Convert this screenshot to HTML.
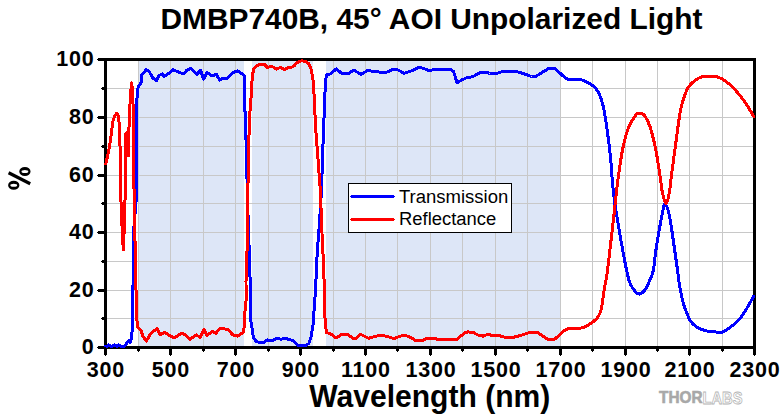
<!DOCTYPE html>
<html><head><meta charset="utf-8"><style>
html,body{margin:0;padding:0;background:#fff;width:780px;height:415px;overflow:hidden}
svg{display:block;font-family:"Liberation Sans",sans-serif}
</style></head><body>
<svg width="780" height="415" viewBox="0 0 780 415">
<rect x="0" y="0" width="780" height="415" fill="#fff"/>
<g fill="#dde6f7" shape-rendering="crispEdges">
<rect x="138" y="61" width="106" height="285"/>
<rect x="252" y="61" width="61" height="285"/>
<rect x="326" y="61" width="234" height="285"/>
</g>
<g fill="#c8c8c8" shape-rendering="crispEdges">
<rect x="138" y="61" width="1" height="285"/>
<rect x="170" y="61" width="1" height="285"/>
<rect x="203" y="61" width="1" height="285"/>
<rect x="235" y="61" width="1" height="285"/>
<rect x="268" y="61" width="1" height="285"/>
<rect x="300" y="61" width="1" height="285"/>
<rect x="333" y="61" width="1" height="285"/>
<rect x="365" y="61" width="1" height="285"/>
<rect x="397" y="61" width="1" height="285"/>
<rect x="430" y="61" width="1" height="285"/>
<rect x="462" y="61" width="1" height="285"/>
<rect x="495" y="61" width="1" height="285"/>
<rect x="527" y="61" width="1" height="285"/>
<rect x="560" y="61" width="1" height="285"/>
<rect x="592" y="61" width="1" height="285"/>
<rect x="625" y="61" width="1" height="285"/>
<rect x="657" y="61" width="1" height="285"/>
<rect x="689" y="61" width="1" height="285"/>
<rect x="722" y="61" width="1" height="285"/>
<rect x="107" y="88" width="646" height="1"/>
<rect x="107" y="117" width="646" height="1"/>
<rect x="107" y="146" width="646" height="1"/>
<rect x="107" y="175" width="646" height="1"/>
<rect x="107" y="203" width="646" height="1"/>
<rect x="107" y="232" width="646" height="1"/>
<rect x="107" y="261" width="646" height="1"/>
<rect x="107" y="290" width="646" height="1"/>
<rect x="107" y="318" width="646" height="1"/>
</g>
<g fill="#000" shape-rendering="crispEdges">
<rect x="98" y="58" width="657" height="3"/><rect x="97" y="59" width="1" height="1"/>
<rect x="104" y="58" width="3" height="297"/><rect x="105" y="355" width="1" height="1"/>
<rect x="98" y="346" width="657" height="3"/><rect x="97" y="347" width="1" height="1"/>
<rect x="753" y="58" width="3" height="297"/><rect x="754" y="355" width="1" height="1"/>
<rect x="102" y="87" width="2" height="3"/><rect x="101" y="88" width="1" height="1"/>
<rect x="98" y="116" width="6" height="3"/><rect x="97" y="117" width="1" height="1"/>
<rect x="102" y="145" width="2" height="3"/><rect x="101" y="146" width="1" height="1"/>
<rect x="98" y="174" width="6" height="3"/><rect x="97" y="175" width="1" height="1"/>
<rect x="102" y="202" width="2" height="3"/><rect x="101" y="203" width="1" height="1"/>
<rect x="98" y="231" width="6" height="3"/><rect x="97" y="232" width="1" height="1"/>
<rect x="102" y="260" width="2" height="3"/><rect x="101" y="261" width="1" height="1"/>
<rect x="98" y="289" width="6" height="3"/><rect x="97" y="290" width="1" height="1"/>
<rect x="102" y="317" width="2" height="3"/><rect x="101" y="318" width="1" height="1"/>
<rect x="137" y="349" width="3" height="2"/><rect x="138" y="351" width="1" height="1"/>
<rect x="169" y="349" width="3" height="6"/><rect x="170" y="355" width="1" height="1"/>
<rect x="202" y="349" width="3" height="2"/><rect x="203" y="351" width="1" height="1"/>
<rect x="234" y="349" width="3" height="6"/><rect x="235" y="355" width="1" height="1"/>
<rect x="267" y="349" width="3" height="2"/><rect x="268" y="351" width="1" height="1"/>
<rect x="299" y="349" width="3" height="6"/><rect x="300" y="355" width="1" height="1"/>
<rect x="332" y="349" width="3" height="2"/><rect x="333" y="351" width="1" height="1"/>
<rect x="364" y="349" width="3" height="6"/><rect x="365" y="355" width="1" height="1"/>
<rect x="396" y="349" width="3" height="2"/><rect x="397" y="351" width="1" height="1"/>
<rect x="429" y="349" width="3" height="6"/><rect x="430" y="355" width="1" height="1"/>
<rect x="461" y="349" width="3" height="2"/><rect x="462" y="351" width="1" height="1"/>
<rect x="494" y="349" width="3" height="6"/><rect x="495" y="355" width="1" height="1"/>
<rect x="526" y="349" width="3" height="2"/><rect x="527" y="351" width="1" height="1"/>
<rect x="559" y="349" width="3" height="6"/><rect x="560" y="355" width="1" height="1"/>
<rect x="591" y="349" width="3" height="2"/><rect x="592" y="351" width="1" height="1"/>
<rect x="624" y="349" width="3" height="6"/><rect x="625" y="355" width="1" height="1"/>
<rect x="656" y="349" width="3" height="2"/><rect x="657" y="351" width="1" height="1"/>
<rect x="688" y="349" width="3" height="6"/><rect x="689" y="355" width="1" height="1"/>
<rect x="721" y="349" width="3" height="2"/><rect x="722" y="351" width="1" height="1"/>
</g>
<g fill="none" stroke-width="3" stroke-linejoin="round" stroke-linecap="round" shape-rendering="crispEdges">
<path stroke="#0000ff" d="M105.5 346.0 L107.5 346.0 L108.5 344.8 L110.0 346.0 L113.0 346.0 L114.5 344.8 L116.0 346.0 L117.5 346.0 L118.5 344.8 L120.0 346.0 L125.0 346.0 L126.8 343.0 L128.5 341.0 L130.2 342.5 L131.6 337.3 L132.2 330.0 L132.6 307.0 L133.1 280.0 L133.3 234.0 L136.3 199.0 L136.5 140.0 L136.6 107.0 L137.4 90.0 L138.7 86.0 L141.2 82.6 L142.0 74.5 L146.4 69.6 L149.3 71.6 L152.7 77.8 L156.5 80.7 L158.9 75.4 L162.3 74.0 L164.2 76.4 L168.6 73.5 L172.9 69.6 L178.2 72.0 L183.6 73.9 L186.7 70.3 L190.8 68.3 L196.9 74.4 L200.5 70.3 L203.6 79.0 L207.2 72.4 L211.8 76.0 L216.4 74.4 L219.5 80.0 L223.0 78.0 L227.7 78.0 L232.3 72.9 L237.4 70.8 L241.5 73.4 L244.1 75.4 L244.6 80.6 L244.3 90.0 L245.5 126.0 L246.7 160.0 L247.2 190.0 L249.1 247.8 L250.3 286.4 L251.0 321.7 L253.4 337.3 L255.8 341.0 L259.5 342.8 L263.7 342.8 L267.3 339.8 L272.1 341.0 L276.9 338.3 L280.5 339.2 L286.0 338.3 L289.6 339.8 L293.2 340.4 L298.6 345.8 L305.2 345.8 L308.9 343.4 L311.3 336.1 L313.1 324.1 L314.3 307.2 L315.5 290.0 L317.2 252.7 L319.1 228.6 L321.5 190.0 L322.7 152.7 L323.9 121.3 L325.1 90.0 L325.6 80.6 L326.7 74.5 L330.3 74.0 L336.4 68.8 L341.5 73.3 L348.7 73.3 L353.8 70.2 L361.0 74.3 L368.2 70.2 L374.4 71.9 L386.7 72.2 L392.8 69.4 L396.9 69.4 L404.2 73.3 L411.4 70.9 L419.6 67.1 L428.8 70.4 L436.0 69.4 L450.4 69.4 L453.5 71.4 L457.1 82.7 L460.6 80.6 L465.8 78.1 L470.9 77.0 L474.1 76.0 L480.3 72.4 L486.4 72.2 L489.5 73.5 L496.7 73.5 L502.8 71.4 L516.2 71.4 L523.3 73.5 L531.5 76.5 L535.6 76.5 L543.8 71.4 L549.1 68.3 L554.2 68.3 C556.1 69.2 558.2 71.7 560.4 73.5 C562.6 75.3 564.4 78.1 567.6 79.1 C570.9 80.1 576.5 78.8 579.9 79.4 C583.3 80.0 585.5 81.3 588.1 82.7 C590.7 84.1 593.4 85.8 595.3 87.8 C597.2 89.8 598.3 91.4 599.6 94.6 C600.9 97.8 602.1 101.1 603.3 106.7 C604.5 112.3 605.7 120.0 606.9 128.4 C608.1 136.8 609.6 148.2 610.5 157.3 C611.4 166.4 611.7 174.8 612.5 183.0 C613.3 191.2 614.0 197.8 615.3 206.5 C616.6 215.2 618.5 226.2 620.1 235.4 C621.7 244.6 623.4 254.2 624.9 261.9 C626.4 269.6 627.8 276.9 629.4 281.6 C631.0 286.3 632.6 288.1 634.2 290.2 C635.8 292.3 637.2 294.1 639.0 294.1 C640.8 294.1 643.0 292.4 644.8 290.2 C646.6 287.9 648.2 284.0 649.6 280.6 C651.0 277.2 652.3 275.5 653.4 270.0 C654.5 264.5 654.8 256.9 656.3 247.5 C657.8 238.1 660.8 220.9 662.3 213.7 C663.8 206.5 664.0 203.7 665.2 204.1 C666.4 204.5 668.0 208.9 669.5 216.1 C671.0 223.3 673.0 238.5 674.3 247.5 C675.6 256.5 676.6 263.4 677.5 270.0 C678.4 276.6 678.8 281.3 679.8 286.9 C680.8 292.5 681.8 298.1 683.5 303.7 C685.2 309.3 688.0 316.7 690.2 320.6 C692.5 324.5 694.5 325.6 697.0 327.3 C699.5 329.0 702.6 329.9 705.4 330.7 C708.2 331.4 711.2 331.6 714.0 331.8 C716.8 332.0 719.8 332.7 722.3 332.1 C724.8 331.5 726.2 330.3 729.0 328.2 C731.8 326.1 736.0 323.2 739.1 319.7 C742.2 316.2 745.2 311.0 747.6 307.1 L753.8 296.1"/>
<path stroke="#ff0000" d="M105.8 164.0 L108.0 154.0 L109.8 145.0 L111.5 132.0 L112.7 122.0 L114.6 116.0 L117.0 113.0 L118.5 116.0 L119.5 127.0 L120.4 160.0 L120.6 189.0 L121.5 217.0 L123.3 250.0 L124.8 217.0 L125.2 185.0 L125.3 150.0 L125.8 134.0 L126.8 132.5 L127.6 145.0 L128.3 156.0 L128.8 140.0 L129.1 121.0 L130.2 100.0 L131.5 83.0 L132.8 92.0 L133.3 120.0 L133.4 171.0 L134.4 200.0 L135.3 260.0 L136.0 290.0 L136.7 314.0 L137.3 327.0 L141.0 330.1 L142.8 336.1 L146.4 341.0 L150.6 333.7 L153.6 331.3 L157.2 328.3 L160.2 334.9 L164.5 332.5 L168.7 334.9 L174.1 338.0 L181.6 333.1 L185.2 334.9 L190.1 339.2 L196.1 334.9 L200.3 337.3 L203.9 329.5 L206.9 335.5 L212.3 331.6 L216.0 333.1 L220.2 328.3 L228.0 329.5 L232.8 334.9 L237.7 336.1 L243.1 332.5 L244.3 326.5 L244.9 312.0 L246.1 300.0 L246.0 281.6 L247.2 245.4 L247.9 190.0 L248.4 162.3 L249.1 131.0 L250.3 104.5 L251.0 98.0 L251.8 83.6 L252.8 73.4 L254.1 68.3 L257.2 65.3 L262.3 64.0 L264.9 64.7 L267.4 67.5 L271.5 66.1 L276.7 69.2 L280.3 67.3 L284.9 69.6 L289.0 67.1 L291.0 67.5 L294.0 66.0 L297.0 62.5 L302.0 60.7 L305.5 61.5 L308.5 63.5 L310.5 67.0 L311.8 72.4 L313.1 80.6 L314.1 95.0 L315.5 126.1 L317.9 157.5 L320.3 190.0 L322.0 233.4 L323.4 262.3 L324.4 290.0 L324.5 312.0 L326.3 332.5 L330.5 333.7 L336.0 338.0 L342.0 334.3 L347.5 334.3 L352.9 338.3 L355.9 338.3 L360.7 334.3 L368.6 338.3 L375.8 336.1 L383.0 335.5 L387.8 336.7 L393.9 338.6 L402.3 335.5 L408.3 336.1 L415.5 340.4 L422.8 340.4 L427.0 338.3 L435.5 338.6 L437.9 339.5 L457.2 339.2 L464.4 333.1 L468.0 331.9 L472.8 332.3 L477.7 334.9 L483.1 336.1 L486.1 334.9 L498.1 335.2 L504.8 337.3 L513.3 337.3 L521.7 335.2 L529.5 332.5 L537.3 332.5 L547.6 339.2 L554.8 339.2 L561.4 333.1 C563.5 331.4 564.1 329.8 567.5 328.9 C570.9 328.0 577.3 329.1 581.5 328.0 C585.7 326.9 590.0 324.0 592.8 322.0 C595.6 320.0 597.1 318.4 598.5 316.2 C599.9 313.9 600.4 313.0 601.4 308.5 C602.4 304.0 603.4 295.1 604.3 289.3 C605.2 283.6 606.0 281.4 607.0 274.0 C608.0 266.6 609.3 255.1 610.5 245.0 C611.7 234.9 612.9 224.0 614.1 213.7 C615.3 203.4 616.1 193.6 617.5 183.0 C618.9 172.4 620.6 159.3 622.5 150.0 C624.4 140.7 626.4 133.0 628.6 127.2 C630.8 121.4 634.0 117.4 635.8 115.1 C637.6 112.8 638.0 113.4 639.4 113.4 C640.8 113.4 642.4 112.8 644.2 115.1 C646.0 117.4 648.2 121.0 650.2 127.2 C652.2 133.4 654.5 143.1 656.3 152.5 C658.1 161.9 660.1 177.2 661.1 183.8 C662.1 190.4 661.5 188.6 662.3 192.0 C663.1 195.4 664.7 204.1 665.9 204.1 C667.1 204.1 668.7 195.8 669.5 192.0 C670.3 188.2 669.7 189.2 670.7 181.4 C671.7 173.6 673.9 156.7 675.5 145.2 C677.1 133.7 678.8 120.0 680.1 112.3 C681.4 104.6 682.1 103.0 683.5 98.8 C684.9 94.6 686.5 90.1 688.5 87.0 C690.5 83.9 693.0 81.9 695.3 80.2 C697.5 78.5 699.6 77.6 702.0 76.9 C704.4 76.2 707.1 76.0 709.6 76.0 C712.1 76.0 714.5 76.1 717.2 76.9 C719.9 77.8 722.8 79.1 725.6 81.1 C728.4 83.1 731.3 85.8 734.1 88.7 C736.9 91.7 740.0 95.4 742.5 98.8 C745.0 102.2 747.4 106.0 749.3 108.9 L753.8 116.5"/>
</g>
<rect x="348.5" y="183.5" width="163" height="49" fill="#fff" stroke="#000" stroke-width="1"/>
<g shape-rendering="crispEdges"><rect x="351" y="195" width="43" height="3" fill="#0000ff"/><rect x="350" y="196" width="45" height="1" fill="#0000ff"/>
<rect x="351" y="218" width="43" height="3" fill="#ff0000"/><rect x="350" y="219" width="45" height="1" fill="#ff0000"/></g>
<text x="399" y="203" textLength="109.3" lengthAdjust="spacingAndGlyphs" font-family="Liberation Sans" font-size="18" fill="#000">Transmission</text>
<text x="399" y="225" textLength="97.3" lengthAdjust="spacingAndGlyphs" font-family="Liberation Sans" font-size="18" fill="#000">Reflectance</text>
<text x="160.5" y="29" textLength="542" lengthAdjust="spacingAndGlyphs" font-family="Liberation Sans" font-weight="bold" font-size="30" fill="#000">DMBP740B, 45° AOI Unpolarized Light</text>
<text x="94.5" y="65.6" text-anchor="end" font-family="Liberation Sans" font-weight="bold" font-size="21.5" letter-spacing="0.8" fill="#000">100</text>
<text x="94.5" y="123.6" text-anchor="end" font-family="Liberation Sans" font-weight="bold" font-size="21.5" letter-spacing="0.8" fill="#000">80</text>
<text x="94.5" y="181.6" text-anchor="end" font-family="Liberation Sans" font-weight="bold" font-size="21.5" letter-spacing="0.8" fill="#000">60</text>
<text x="94.5" y="238.6" text-anchor="end" font-family="Liberation Sans" font-weight="bold" font-size="21.5" letter-spacing="0.8" fill="#000">40</text>
<text x="94.5" y="296.6" text-anchor="end" font-family="Liberation Sans" font-weight="bold" font-size="21.5" letter-spacing="0.8" fill="#000">20</text>
<text x="94.5" y="353.6" text-anchor="end" font-family="Liberation Sans" font-weight="bold" font-size="21.5" letter-spacing="0.8" fill="#000">0</text>
<text x="105.9" y="376.5" text-anchor="middle" font-family="Liberation Sans" font-weight="bold" font-size="21.5" letter-spacing="0.8" fill="#000">300</text>
<text x="170.9" y="376.5" text-anchor="middle" font-family="Liberation Sans" font-weight="bold" font-size="21.5" letter-spacing="0.8" fill="#000">500</text>
<text x="235.9" y="376.5" text-anchor="middle" font-family="Liberation Sans" font-weight="bold" font-size="21.5" letter-spacing="0.8" fill="#000">700</text>
<text x="300.9" y="376.5" text-anchor="middle" font-family="Liberation Sans" font-weight="bold" font-size="21.5" letter-spacing="0.8" fill="#000">900</text>
<text x="365.9" y="376.5" text-anchor="middle" font-family="Liberation Sans" font-weight="bold" font-size="21.5" letter-spacing="0.8" fill="#000">1100</text>
<text x="430.9" y="376.5" text-anchor="middle" font-family="Liberation Sans" font-weight="bold" font-size="21.5" letter-spacing="0.8" fill="#000">1300</text>
<text x="495.9" y="376.5" text-anchor="middle" font-family="Liberation Sans" font-weight="bold" font-size="21.5" letter-spacing="0.8" fill="#000">1500</text>
<text x="560.9" y="376.5" text-anchor="middle" font-family="Liberation Sans" font-weight="bold" font-size="21.5" letter-spacing="0.8" fill="#000">1700</text>
<text x="625.9" y="376.5" text-anchor="middle" font-family="Liberation Sans" font-weight="bold" font-size="21.5" letter-spacing="0.8" fill="#000">1900</text>
<text x="689.9" y="376.5" text-anchor="middle" font-family="Liberation Sans" font-weight="bold" font-size="21.5" letter-spacing="0.8" fill="#000">2100</text>
<text x="754.9" y="376.5" text-anchor="middle" font-family="Liberation Sans" font-weight="bold" font-size="21.5" letter-spacing="0.8" fill="#000">2300</text>
<path fill="#000" fill-rule="evenodd" d="M19.25 171.50 a5.65 4.55 0 1 0 11.30 0 a5.65 4.55 0 1 0 -11.30 0Z M21.50 171.50 a3.40 1.50 0 1 0 6.80 0 a3.40 1.50 0 1 0 -6.80 0Z M8.10 185.20 a5.65 4.55 0 1 0 11.30 0 a5.65 4.55 0 1 0 -11.30 0Z M10.35 185.20 a3.40 1.50 0 1 0 6.80 0 a3.40 1.50 0 1 0 -6.80 0Z"/><line x1="8.6" y1="172.7" x2="30.2" y2="183.7" stroke="#000" stroke-width="3.2"/>
<text x="309.3" y="407" textLength="241" lengthAdjust="spacingAndGlyphs" font-family="Liberation Sans" font-weight="bold" font-size="31" fill="#000">Wavelength (nm)</text>
<text x="659" y="403" textLength="43.5" lengthAdjust="spacingAndGlyphs" font-family="Liberation Sans" font-weight="bold" font-size="16.5" fill="#a8a8a8" stroke="#a8a8a8" stroke-width="0.6">THOR</text>
<text x="702.5" y="403.5" textLength="40" lengthAdjust="spacingAndGlyphs" font-family="Liberation Sans" font-weight="bold" font-size="17" fill="#fff" stroke="#b4b4b4" stroke-width="0.8">LABS</text>
</svg>
</body></html>
